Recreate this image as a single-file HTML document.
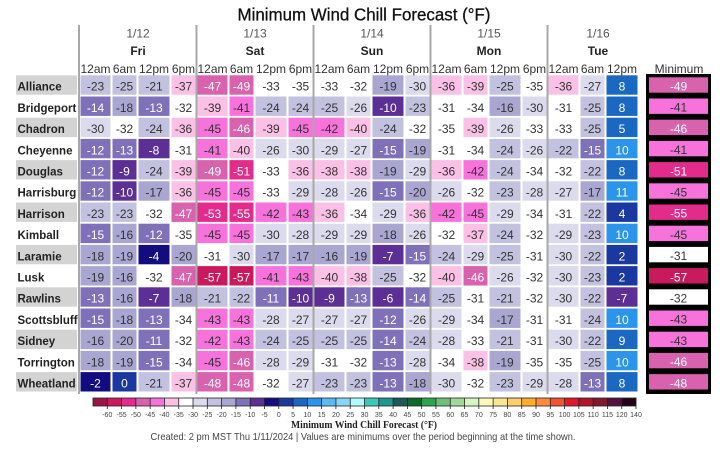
<!DOCTYPE html>
<html><head><meta charset="utf-8">
<style>
html,body{margin:0;padding:0;background:#fff}
svg{display:block}
text{font-family:"Liberation Sans",sans-serif}
.r text{font-size:12px;text-anchor:middle;fill:#333}
.r text.w{fill:#fff}
.r text.lb{text-anchor:start;font-weight:bold;font-size:11.5px;fill:#222}
.cr{fill:#c81a5c}.ho{fill:#e32b8c}.mi{fill:#d862ae}.bp{fill:#f872dc}.lp{fill:#fbc0e6}.wh{fill:#fff}
.l1{fill:#dcdbed}.l2{fill:#c2c1df}.l3{fill:#a9a6d1}.p1{fill:#7e71ba}.p2{fill:#5b2f95}
.n1{fill:#120c80}.n2{fill:#1a38a0}.b1{fill:#1a68c2}.b2{fill:#2b95ec}
.hd text{font-size:12px;text-anchor:middle;fill:#333}
.hd text.dt{fill:#555}
.hd text.dy{font-weight:bold;fill:#222}
.cb text{font-size:7px;text-anchor:middle;fill:#444}
text.serif{font-family:"Liberation Serif",serif;font-weight:bold}
</style></head><body>
<svg width="728" height="449" viewBox="0 0 728 449" xmlns="http://www.w3.org/2000/svg">
<rect width="728" height="449" fill="#fff"/>
<text x="364" y="20.5" font-size="17.5" text-anchor="middle" fill="#111" stroke="#111" stroke-width="0.3" textLength="253" lengthAdjust="spacingAndGlyphs">Minimum Wind Chill Forecast (°F)</text>

<g class="hd">
<text class="dt" x="138" y="37.5">1/12</text>
<text class="dt" x="255" y="37.5">1/13</text>
<text class="dt" x="372" y="37.5">1/14</text>
<text class="dt" x="489" y="37.5">1/15</text>
<text class="dt" x="598" y="37.5">1/16</text>
<text class="dy" x="138" y="55">Fri</text>
<text class="dy" x="255" y="55">Sat</text>
<text class="dy" x="372" y="55">Sun</text>
<text class="dy" x="489" y="55">Mon</text>
<text class="dy" x="598" y="55">Tue</text>
<text x="95.5" y="73">12am</text><text x="124.5" y="73">6am</text><text x="154" y="73">12pm</text><text x="183.5" y="73">6pm</text>
<text x="212.5" y="73">12am</text><text x="241.5" y="73">6am</text><text x="271" y="73">12pm</text><text x="300.5" y="73">6pm</text>
<text x="329.5" y="73">12am</text><text x="358.5" y="73">6am</text><text x="388" y="73">12pm</text><text x="417.5" y="73">6pm</text>
<text x="446.5" y="73">12am</text><text x="475.5" y="73">6am</text><text x="505" y="73">12pm</text><text x="534.5" y="73">6pm</text>
<text x="563.5" y="73">12am</text><text x="592.5" y="73">6am</text><text x="622" y="73">12pm</text>
<text x="679" y="73">Minimum</text>
</g>

<rect x="646" y="74" width="65" height="320" fill="#000"/>

<g class="r" transform="translate(0,75.3)">
<rect x="16" width="61" height="19.4" fill="#d3d3d3"/><text class="lb" x="17.5" y="15.4">Alliance</text>
<rect class="l2" x="80.5" width="30" height="19.4"/><text x="95.5" y="15.4">-23</text>
<rect class="l2" x="112.5" width="24" height="19.4"/><text x="124.5" y="15.4">-25</text>
<rect class="l2" x="138.5" width="31" height="19.4"/><text x="154" y="15.4">-21</text>
<rect class="lp" x="171.5" width="24" height="19.4"/><text x="183.5" y="15.4">-37</text>
<rect class="mi" x="197.5" width="30" height="19.4"/><text class="w" x="212.5" y="15.4">-47</text>
<rect class="mi" x="229.5" width="24" height="19.4"/><text class="w" x="241.5" y="15.4">-49</text>
<rect class="wh" x="255.5" width="31" height="19.4"/><text x="271" y="15.4">-33</text>
<rect class="wh" x="288.5" width="24" height="19.4"/><text x="300.5" y="15.4">-35</text>
<rect class="wh" x="314.5" width="30" height="19.4"/><text x="329.5" y="15.4">-33</text>
<rect class="wh" x="346.5" width="24" height="19.4"/><text x="358.5" y="15.4">-32</text>
<rect class="l3" x="372.5" width="31" height="19.4"/><text x="388" y="15.4">-19</text>
<rect class="l1" x="405.5" width="24" height="19.4"/><text x="417.5" y="15.4">-30</text>
<rect class="lp" x="431.5" width="30" height="19.4"/><text x="446.5" y="15.4">-36</text>
<rect class="lp" x="463.5" width="24" height="19.4"/><text x="475.5" y="15.4">-39</text>
<rect class="l2" x="489.5" width="31" height="19.4"/><text x="505" y="15.4">-25</text>
<rect class="wh" x="522.5" width="24" height="19.4"/><text x="534.5" y="15.4">-35</text>
<rect class="lp" x="548.5" width="30" height="19.4"/><text x="563.5" y="15.4">-36</text>
<rect class="l1" x="580.5" width="24" height="19.4"/><text x="592.5" y="15.4">-27</text>
<rect class="b1" x="606.5" width="31" height="19.4"/><text class="w" x="622" y="15.4">8</text>
<rect class="mi" x="649" y="2" width="59" height="15.4"/><text class="w" x="678.5" y="15.2">-49</text>
</g>

<g class="r" transform="translate(0,96.5)">
<text class="lb" x="17.5" y="15.4">Bridgeport</text>
<rect class="p1" x="80.5" width="30" height="19.4"/><text class="w" x="95.5" y="15.4">-14</text>
<rect class="l3" x="112.5" width="24" height="19.4"/><text x="124.5" y="15.4">-18</text>
<rect class="p1" x="138.5" width="31" height="19.4"/><text class="w" x="154" y="15.4">-13</text>
<rect class="wh" x="171.5" width="24" height="19.4"/><text x="183.5" y="15.4">-32</text>
<rect class="lp" x="197.5" width="30" height="19.4"/><text x="212.5" y="15.4">-39</text>
<rect class="bp" x="229.5" width="24" height="19.4"/><text x="241.5" y="15.4">-41</text>
<rect class="l2" x="255.5" width="31" height="19.4"/><text x="271" y="15.4">-24</text>
<rect class="l2" x="288.5" width="24" height="19.4"/><text x="300.5" y="15.4">-24</text>
<rect class="l2" x="314.5" width="30" height="19.4"/><text x="329.5" y="15.4">-25</text>
<rect class="l1" x="346.5" width="24" height="19.4"/><text x="358.5" y="15.4">-26</text>
<rect class="p2" x="372.5" width="31" height="19.4"/><text class="w" x="388" y="15.4">-10</text>
<rect class="l2" x="405.5" width="24" height="19.4"/><text x="417.5" y="15.4">-23</text>
<rect class="wh" x="431.5" width="30" height="19.4"/><text x="446.5" y="15.4">-31</text>
<rect class="wh" x="463.5" width="24" height="19.4"/><text x="475.5" y="15.4">-34</text>
<rect class="l3" x="489.5" width="31" height="19.4"/><text x="505" y="15.4">-16</text>
<rect class="l1" x="522.5" width="24" height="19.4"/><text x="534.5" y="15.4">-30</text>
<rect class="wh" x="548.5" width="30" height="19.4"/><text x="563.5" y="15.4">-31</text>
<rect class="l2" x="580.5" width="24" height="19.4"/><text x="592.5" y="15.4">-25</text>
<rect class="b1" x="606.5" width="31" height="19.4"/><text class="w" x="622" y="15.4">8</text>
<rect class="bp" x="649" y="2" width="59" height="15.4"/><text x="678.5" y="15.2">-41</text>
</g>

<g class="r" transform="translate(0,117.7)">
<rect x="16" width="61" height="19.4" fill="#d3d3d3"/><text class="lb" x="17.5" y="15.4">Chadron</text>
<rect class="l1" x="80.5" width="30" height="19.4"/><text x="95.5" y="15.4">-30</text>
<rect class="wh" x="112.5" width="24" height="19.4"/><text x="124.5" y="15.4">-32</text>
<rect class="l2" x="138.5" width="31" height="19.4"/><text x="154" y="15.4">-24</text>
<rect class="lp" x="171.5" width="24" height="19.4"/><text x="183.5" y="15.4">-36</text>
<rect class="bp" x="197.5" width="30" height="19.4"/><text x="212.5" y="15.4">-45</text>
<rect class="mi" x="229.5" width="24" height="19.4"/><text class="w" x="241.5" y="15.4">-46</text>
<rect class="lp" x="255.5" width="31" height="19.4"/><text x="271" y="15.4">-39</text>
<rect class="bp" x="288.5" width="24" height="19.4"/><text x="300.5" y="15.4">-45</text>
<rect class="bp" x="314.5" width="30" height="19.4"/><text x="329.5" y="15.4">-42</text>
<rect class="lp" x="346.5" width="24" height="19.4"/><text x="358.5" y="15.4">-40</text>
<rect class="l2" x="372.5" width="31" height="19.4"/><text x="388" y="15.4">-24</text>
<rect class="wh" x="405.5" width="24" height="19.4"/><text x="417.5" y="15.4">-32</text>
<rect class="wh" x="431.5" width="30" height="19.4"/><text x="446.5" y="15.4">-35</text>
<rect class="lp" x="463.5" width="24" height="19.4"/><text x="475.5" y="15.4">-39</text>
<rect class="l1" x="489.5" width="31" height="19.4"/><text x="505" y="15.4">-26</text>
<rect class="wh" x="522.5" width="24" height="19.4"/><text x="534.5" y="15.4">-33</text>
<rect class="wh" x="548.5" width="30" height="19.4"/><text x="563.5" y="15.4">-33</text>
<rect class="l2" x="580.5" width="24" height="19.4"/><text x="592.5" y="15.4">-25</text>
<rect class="b1" x="606.5" width="31" height="19.4"/><text class="w" x="622" y="15.4">5</text>
<rect class="mi" x="649" y="2" width="59" height="15.4"/><text class="w" x="678.5" y="15.2">-46</text>
</g>

<g class="r" transform="translate(0,138.9)">
<text class="lb" x="17.5" y="15.4">Cheyenne</text>
<rect class="p1" x="80.5" width="30" height="19.4"/><text class="w" x="95.5" y="15.4">-12</text>
<rect class="p1" x="112.5" width="24" height="19.4"/><text class="w" x="124.5" y="15.4">-13</text>
<rect class="p2" x="138.5" width="31" height="19.4"/><text class="w" x="154" y="15.4">-8</text>
<rect class="wh" x="171.5" width="24" height="19.4"/><text x="183.5" y="15.4">-31</text>
<rect class="bp" x="197.5" width="30" height="19.4"/><text x="212.5" y="15.4">-41</text>
<rect class="lp" x="229.5" width="24" height="19.4"/><text x="241.5" y="15.4">-40</text>
<rect class="l1" x="255.5" width="31" height="19.4"/><text x="271" y="15.4">-26</text>
<rect class="l1" x="288.5" width="24" height="19.4"/><text x="300.5" y="15.4">-30</text>
<rect class="l1" x="314.5" width="30" height="19.4"/><text x="329.5" y="15.4">-29</text>
<rect class="l1" x="346.5" width="24" height="19.4"/><text x="358.5" y="15.4">-27</text>
<rect class="p1" x="372.5" width="31" height="19.4"/><text class="w" x="388" y="15.4">-15</text>
<rect class="l3" x="405.5" width="24" height="19.4"/><text x="417.5" y="15.4">-19</text>
<rect class="wh" x="431.5" width="30" height="19.4"/><text x="446.5" y="15.4">-31</text>
<rect class="wh" x="463.5" width="24" height="19.4"/><text x="475.5" y="15.4">-34</text>
<rect class="l2" x="489.5" width="31" height="19.4"/><text x="505" y="15.4">-24</text>
<rect class="l1" x="522.5" width="24" height="19.4"/><text x="534.5" y="15.4">-26</text>
<rect class="l2" x="548.5" width="30" height="19.4"/><text x="563.5" y="15.4">-22</text>
<rect class="p1" x="580.5" width="24" height="19.4"/><text class="w" x="592.5" y="15.4">-15</text>
<rect class="b2" x="606.5" width="31" height="19.4"/><text class="w" x="622" y="15.4">10</text>
<rect class="bp" x="649" y="2" width="59" height="15.4"/><text x="678.5" y="15.2">-41</text>
</g>

<g class="r" transform="translate(0,160.1)">
<rect x="16" width="61" height="19.4" fill="#d3d3d3"/><text class="lb" x="17.5" y="15.4">Douglas</text>
<rect class="p1" x="80.5" width="30" height="19.4"/><text class="w" x="95.5" y="15.4">-12</text>
<rect class="p2" x="112.5" width="24" height="19.4"/><text class="w" x="124.5" y="15.4">-9</text>
<rect class="l2" x="138.5" width="31" height="19.4"/><text x="154" y="15.4">-24</text>
<rect class="lp" x="171.5" width="24" height="19.4"/><text x="183.5" y="15.4">-39</text>
<rect class="mi" x="197.5" width="30" height="19.4"/><text class="w" x="212.5" y="15.4">-49</text>
<rect class="ho" x="229.5" width="24" height="19.4"/><text class="w" x="241.5" y="15.4">-51</text>
<rect class="wh" x="255.5" width="31" height="19.4"/><text x="271" y="15.4">-33</text>
<rect class="lp" x="288.5" width="24" height="19.4"/><text x="300.5" y="15.4">-36</text>
<rect class="lp" x="314.5" width="30" height="19.4"/><text x="329.5" y="15.4">-38</text>
<rect class="lp" x="346.5" width="24" height="19.4"/><text x="358.5" y="15.4">-38</text>
<rect class="l3" x="372.5" width="31" height="19.4"/><text x="388" y="15.4">-19</text>
<rect class="l1" x="405.5" width="24" height="19.4"/><text x="417.5" y="15.4">-29</text>
<rect class="lp" x="431.5" width="30" height="19.4"/><text x="446.5" y="15.4">-36</text>
<rect class="bp" x="463.5" width="24" height="19.4"/><text x="475.5" y="15.4">-42</text>
<rect class="l2" x="489.5" width="31" height="19.4"/><text x="505" y="15.4">-24</text>
<rect class="wh" x="522.5" width="24" height="19.4"/><text x="534.5" y="15.4">-34</text>
<rect class="wh" x="548.5" width="30" height="19.4"/><text x="563.5" y="15.4">-32</text>
<rect class="l2" x="580.5" width="24" height="19.4"/><text x="592.5" y="15.4">-22</text>
<rect class="b1" x="606.5" width="31" height="19.4"/><text class="w" x="622" y="15.4">8</text>
<rect class="ho" x="649" y="2" width="59" height="15.4"/><text class="w" x="678.5" y="15.2">-51</text>
</g>

<g class="r" transform="translate(0,181.3)">
<text class="lb" x="17.5" y="15.4">Harrisburg</text>
<rect class="p1" x="80.5" width="30" height="19.4"/><text class="w" x="95.5" y="15.4">-12</text>
<rect class="p2" x="112.5" width="24" height="19.4"/><text class="w" x="124.5" y="15.4">-10</text>
<rect class="l3" x="138.5" width="31" height="19.4"/><text x="154" y="15.4">-17</text>
<rect class="lp" x="171.5" width="24" height="19.4"/><text x="183.5" y="15.4">-36</text>
<rect class="bp" x="197.5" width="30" height="19.4"/><text x="212.5" y="15.4">-45</text>
<rect class="bp" x="229.5" width="24" height="19.4"/><text x="241.5" y="15.4">-45</text>
<rect class="wh" x="255.5" width="31" height="19.4"/><text x="271" y="15.4">-33</text>
<rect class="l1" x="288.5" width="24" height="19.4"/><text x="300.5" y="15.4">-29</text>
<rect class="l1" x="314.5" width="30" height="19.4"/><text x="329.5" y="15.4">-28</text>
<rect class="l1" x="346.5" width="24" height="19.4"/><text x="358.5" y="15.4">-26</text>
<rect class="p1" x="372.5" width="31" height="19.4"/><text class="w" x="388" y="15.4">-15</text>
<rect class="l3" x="405.5" width="24" height="19.4"/><text x="417.5" y="15.4">-20</text>
<rect class="l1" x="431.5" width="30" height="19.4"/><text x="446.5" y="15.4">-26</text>
<rect class="wh" x="463.5" width="24" height="19.4"/><text x="475.5" y="15.4">-32</text>
<rect class="l2" x="489.5" width="31" height="19.4"/><text x="505" y="15.4">-23</text>
<rect class="l1" x="522.5" width="24" height="19.4"/><text x="534.5" y="15.4">-28</text>
<rect class="l1" x="548.5" width="30" height="19.4"/><text x="563.5" y="15.4">-27</text>
<rect class="l3" x="580.5" width="24" height="19.4"/><text x="592.5" y="15.4">-17</text>
<rect class="b2" x="606.5" width="31" height="19.4"/><text class="w" x="622" y="15.4">11</text>
<rect class="bp" x="649" y="2" width="59" height="15.4"/><text x="678.5" y="15.2">-45</text>
</g>

<g class="r" transform="translate(0,202.5)">
<rect x="16" width="61" height="19.4" fill="#d3d3d3"/><text class="lb" x="17.5" y="15.4">Harrison</text>
<rect class="l2" x="80.5" width="30" height="19.4"/><text x="95.5" y="15.4">-23</text>
<rect class="l2" x="112.5" width="24" height="19.4"/><text x="124.5" y="15.4">-23</text>
<rect class="wh" x="138.5" width="31" height="19.4"/><text x="154" y="15.4">-32</text>
<rect class="mi" x="171.5" width="24" height="19.4"/><text class="w" x="183.5" y="15.4">-47</text>
<rect class="ho" x="197.5" width="30" height="19.4"/><text class="w" x="212.5" y="15.4">-53</text>
<rect class="ho" x="229.5" width="24" height="19.4"/><text class="w" x="241.5" y="15.4">-55</text>
<rect class="bp" x="255.5" width="31" height="19.4"/><text x="271" y="15.4">-42</text>
<rect class="bp" x="288.5" width="24" height="19.4"/><text x="300.5" y="15.4">-43</text>
<rect class="lp" x="314.5" width="30" height="19.4"/><text x="329.5" y="15.4">-36</text>
<rect class="wh" x="346.5" width="24" height="19.4"/><text x="358.5" y="15.4">-34</text>
<rect class="l1" x="372.5" width="31" height="19.4"/><text x="388" y="15.4">-29</text>
<rect class="lp" x="405.5" width="24" height="19.4"/><text x="417.5" y="15.4">-36</text>
<rect class="bp" x="431.5" width="30" height="19.4"/><text x="446.5" y="15.4">-42</text>
<rect class="bp" x="463.5" width="24" height="19.4"/><text x="475.5" y="15.4">-45</text>
<rect class="l1" x="489.5" width="31" height="19.4"/><text x="505" y="15.4">-29</text>
<rect class="wh" x="522.5" width="24" height="19.4"/><text x="534.5" y="15.4">-34</text>
<rect class="wh" x="548.5" width="30" height="19.4"/><text x="563.5" y="15.4">-31</text>
<rect class="l2" x="580.5" width="24" height="19.4"/><text x="592.5" y="15.4">-22</text>
<rect class="n2" x="606.5" width="31" height="19.4"/><text class="w" x="622" y="15.4">4</text>
<rect class="ho" x="649" y="2" width="59" height="15.4"/><text class="w" x="678.5" y="15.2">-55</text>
</g>

<g class="r" transform="translate(0,223.7)">
<text class="lb" x="17.5" y="15.4">Kimball</text>
<rect class="p1" x="80.5" width="30" height="19.4"/><text class="w" x="95.5" y="15.4">-15</text>
<rect class="l3" x="112.5" width="24" height="19.4"/><text x="124.5" y="15.4">-16</text>
<rect class="p1" x="138.5" width="31" height="19.4"/><text class="w" x="154" y="15.4">-12</text>
<rect class="wh" x="171.5" width="24" height="19.4"/><text x="183.5" y="15.4">-35</text>
<rect class="bp" x="197.5" width="30" height="19.4"/><text x="212.5" y="15.4">-45</text>
<rect class="bp" x="229.5" width="24" height="19.4"/><text x="241.5" y="15.4">-45</text>
<rect class="l1" x="255.5" width="31" height="19.4"/><text x="271" y="15.4">-30</text>
<rect class="l1" x="288.5" width="24" height="19.4"/><text x="300.5" y="15.4">-28</text>
<rect class="l1" x="314.5" width="30" height="19.4"/><text x="329.5" y="15.4">-29</text>
<rect class="l1" x="346.5" width="24" height="19.4"/><text x="358.5" y="15.4">-29</text>
<rect class="l3" x="372.5" width="31" height="19.4"/><text x="388" y="15.4">-18</text>
<rect class="l1" x="405.5" width="24" height="19.4"/><text x="417.5" y="15.4">-26</text>
<rect class="wh" x="431.5" width="30" height="19.4"/><text x="446.5" y="15.4">-32</text>
<rect class="lp" x="463.5" width="24" height="19.4"/><text x="475.5" y="15.4">-37</text>
<rect class="l2" x="489.5" width="31" height="19.4"/><text x="505" y="15.4">-24</text>
<rect class="wh" x="522.5" width="24" height="19.4"/><text x="534.5" y="15.4">-32</text>
<rect class="l1" x="548.5" width="30" height="19.4"/><text x="563.5" y="15.4">-29</text>
<rect class="l2" x="580.5" width="24" height="19.4"/><text x="592.5" y="15.4">-23</text>
<rect class="b2" x="606.5" width="31" height="19.4"/><text class="w" x="622" y="15.4">10</text>
<rect class="bp" x="649" y="2" width="59" height="15.4"/><text x="678.5" y="15.2">-45</text>
</g>

<g class="r" transform="translate(0,244.9)">
<rect x="16" width="61" height="19.4" fill="#d3d3d3"/><text class="lb" x="17.5" y="15.4">Laramie</text>
<rect class="l3" x="80.5" width="30" height="19.4"/><text x="95.5" y="15.4">-18</text>
<rect class="l3" x="112.5" width="24" height="19.4"/><text x="124.5" y="15.4">-19</text>
<rect class="n1" x="138.5" width="31" height="19.4"/><text class="w" x="154" y="15.4">-4</text>
<rect class="l3" x="171.5" width="24" height="19.4"/><text x="183.5" y="15.4">-20</text>
<rect class="wh" x="197.5" width="30" height="19.4"/><text x="212.5" y="15.4">-31</text>
<rect class="l1" x="229.5" width="24" height="19.4"/><text x="241.5" y="15.4">-30</text>
<rect class="l3" x="255.5" width="31" height="19.4"/><text x="271" y="15.4">-17</text>
<rect class="l3" x="288.5" width="24" height="19.4"/><text x="300.5" y="15.4">-17</text>
<rect class="l3" x="314.5" width="30" height="19.4"/><text x="329.5" y="15.4">-16</text>
<rect class="l3" x="346.5" width="24" height="19.4"/><text x="358.5" y="15.4">-19</text>
<rect class="p2" x="372.5" width="31" height="19.4"/><text class="w" x="388" y="15.4">-7</text>
<rect class="p1" x="405.5" width="24" height="19.4"/><text class="w" x="417.5" y="15.4">-15</text>
<rect class="l2" x="431.5" width="30" height="19.4"/><text x="446.5" y="15.4">-24</text>
<rect class="l1" x="463.5" width="24" height="19.4"/><text x="475.5" y="15.4">-29</text>
<rect class="l2" x="489.5" width="31" height="19.4"/><text x="505" y="15.4">-25</text>
<rect class="wh" x="522.5" width="24" height="19.4"/><text x="534.5" y="15.4">-31</text>
<rect class="l1" x="548.5" width="30" height="19.4"/><text x="563.5" y="15.4">-30</text>
<rect class="l2" x="580.5" width="24" height="19.4"/><text x="592.5" y="15.4">-22</text>
<rect class="n2" x="606.5" width="31" height="19.4"/><text class="w" x="622" y="15.4">2</text>
<rect class="wh" x="649" y="2" width="59" height="15.4"/><text x="678.5" y="15.2">-31</text>
</g>

<g class="r" transform="translate(0,266.1)">
<text class="lb" x="17.5" y="15.4">Lusk</text>
<rect class="l3" x="80.5" width="30" height="19.4"/><text x="95.5" y="15.4">-19</text>
<rect class="l3" x="112.5" width="24" height="19.4"/><text x="124.5" y="15.4">-16</text>
<rect class="wh" x="138.5" width="31" height="19.4"/><text x="154" y="15.4">-32</text>
<rect class="mi" x="171.5" width="24" height="19.4"/><text class="w" x="183.5" y="15.4">-47</text>
<rect class="cr" x="197.5" width="30" height="19.4"/><text class="w" x="212.5" y="15.4">-57</text>
<rect class="cr" x="229.5" width="24" height="19.4"/><text class="w" x="241.5" y="15.4">-57</text>
<rect class="bp" x="255.5" width="31" height="19.4"/><text x="271" y="15.4">-41</text>
<rect class="bp" x="288.5" width="24" height="19.4"/><text x="300.5" y="15.4">-43</text>
<rect class="lp" x="314.5" width="30" height="19.4"/><text x="329.5" y="15.4">-40</text>
<rect class="lp" x="346.5" width="24" height="19.4"/><text x="358.5" y="15.4">-38</text>
<rect class="l2" x="372.5" width="31" height="19.4"/><text x="388" y="15.4">-25</text>
<rect class="wh" x="405.5" width="24" height="19.4"/><text x="417.5" y="15.4">-32</text>
<rect class="lp" x="431.5" width="30" height="19.4"/><text x="446.5" y="15.4">-40</text>
<rect class="mi" x="463.5" width="24" height="19.4"/><text class="w" x="475.5" y="15.4">-46</text>
<rect class="l1" x="489.5" width="31" height="19.4"/><text x="505" y="15.4">-26</text>
<rect class="wh" x="522.5" width="24" height="19.4"/><text x="534.5" y="15.4">-32</text>
<rect class="l1" x="548.5" width="30" height="19.4"/><text x="563.5" y="15.4">-30</text>
<rect class="l2" x="580.5" width="24" height="19.4"/><text x="592.5" y="15.4">-23</text>
<rect class="n2" x="606.5" width="31" height="19.4"/><text class="w" x="622" y="15.4">2</text>
<rect class="cr" x="649" y="2" width="59" height="15.4"/><text class="w" x="678.5" y="15.2">-57</text>
</g>

<g class="r" transform="translate(0,287.3)">
<rect x="16" width="61" height="19.4" fill="#d3d3d3"/><text class="lb" x="17.5" y="15.4">Rawlins</text>
<rect class="p1" x="80.5" width="30" height="19.4"/><text class="w" x="95.5" y="15.4">-13</text>
<rect class="l3" x="112.5" width="24" height="19.4"/><text x="124.5" y="15.4">-16</text>
<rect class="p2" x="138.5" width="31" height="19.4"/><text class="w" x="154" y="15.4">-7</text>
<rect class="l3" x="171.5" width="24" height="19.4"/><text x="183.5" y="15.4">-18</text>
<rect class="l2" x="197.5" width="30" height="19.4"/><text x="212.5" y="15.4">-21</text>
<rect class="l2" x="229.5" width="24" height="19.4"/><text x="241.5" y="15.4">-22</text>
<rect class="p1" x="255.5" width="31" height="19.4"/><text class="w" x="271" y="15.4">-11</text>
<rect class="p2" x="288.5" width="24" height="19.4"/><text class="w" x="300.5" y="15.4">-10</text>
<rect class="p2" x="314.5" width="30" height="19.4"/><text class="w" x="329.5" y="15.4">-9</text>
<rect class="p1" x="346.5" width="24" height="19.4"/><text class="w" x="358.5" y="15.4">-13</text>
<rect class="p2" x="372.5" width="31" height="19.4"/><text class="w" x="388" y="15.4">-6</text>
<rect class="p1" x="405.5" width="24" height="19.4"/><text class="w" x="417.5" y="15.4">-14</text>
<rect class="l2" x="431.5" width="30" height="19.4"/><text x="446.5" y="15.4">-25</text>
<rect class="wh" x="463.5" width="24" height="19.4"/><text x="475.5" y="15.4">-31</text>
<rect class="l2" x="489.5" width="31" height="19.4"/><text x="505" y="15.4">-21</text>
<rect class="wh" x="522.5" width="24" height="19.4"/><text x="534.5" y="15.4">-32</text>
<rect class="l1" x="548.5" width="30" height="19.4"/><text x="563.5" y="15.4">-30</text>
<rect class="l2" x="580.5" width="24" height="19.4"/><text x="592.5" y="15.4">-22</text>
<rect class="p2" x="606.5" width="31" height="19.4"/><text class="w" x="622" y="15.4">-7</text>
<rect class="wh" x="649" y="2" width="59" height="15.4"/><text x="678.5" y="15.2">-32</text>
</g>

<g class="r" transform="translate(0,308.5)">
<text class="lb" x="17.5" y="15.4">Scottsbluff</text>
<rect class="p1" x="80.5" width="30" height="19.4"/><text class="w" x="95.5" y="15.4">-15</text>
<rect class="l3" x="112.5" width="24" height="19.4"/><text x="124.5" y="15.4">-18</text>
<rect class="p1" x="138.5" width="31" height="19.4"/><text class="w" x="154" y="15.4">-13</text>
<rect class="wh" x="171.5" width="24" height="19.4"/><text x="183.5" y="15.4">-34</text>
<rect class="bp" x="197.5" width="30" height="19.4"/><text x="212.5" y="15.4">-43</text>
<rect class="bp" x="229.5" width="24" height="19.4"/><text x="241.5" y="15.4">-43</text>
<rect class="l1" x="255.5" width="31" height="19.4"/><text x="271" y="15.4">-28</text>
<rect class="l1" x="288.5" width="24" height="19.4"/><text x="300.5" y="15.4">-27</text>
<rect class="l1" x="314.5" width="30" height="19.4"/><text x="329.5" y="15.4">-27</text>
<rect class="l1" x="346.5" width="24" height="19.4"/><text x="358.5" y="15.4">-27</text>
<rect class="p1" x="372.5" width="31" height="19.4"/><text class="w" x="388" y="15.4">-12</text>
<rect class="l1" x="405.5" width="24" height="19.4"/><text x="417.5" y="15.4">-26</text>
<rect class="l1" x="431.5" width="30" height="19.4"/><text x="446.5" y="15.4">-29</text>
<rect class="wh" x="463.5" width="24" height="19.4"/><text x="475.5" y="15.4">-34</text>
<rect class="l3" x="489.5" width="31" height="19.4"/><text x="505" y="15.4">-17</text>
<rect class="wh" x="522.5" width="24" height="19.4"/><text x="534.5" y="15.4">-31</text>
<rect class="wh" x="548.5" width="30" height="19.4"/><text x="563.5" y="15.4">-31</text>
<rect class="l2" x="580.5" width="24" height="19.4"/><text x="592.5" y="15.4">-24</text>
<rect class="b2" x="606.5" width="31" height="19.4"/><text class="w" x="622" y="15.4">10</text>
<rect class="bp" x="649" y="2" width="59" height="15.4"/><text x="678.5" y="15.2">-43</text>
</g>

<g class="r" transform="translate(0,329.7)">
<rect x="16" width="61" height="19.4" fill="#d3d3d3"/><text class="lb" x="17.5" y="15.4">Sidney</text>
<rect class="l3" x="80.5" width="30" height="19.4"/><text x="95.5" y="15.4">-16</text>
<rect class="l3" x="112.5" width="24" height="19.4"/><text x="124.5" y="15.4">-20</text>
<rect class="p1" x="138.5" width="31" height="19.4"/><text class="w" x="154" y="15.4">-11</text>
<rect class="wh" x="171.5" width="24" height="19.4"/><text x="183.5" y="15.4">-32</text>
<rect class="bp" x="197.5" width="30" height="19.4"/><text x="212.5" y="15.4">-42</text>
<rect class="bp" x="229.5" width="24" height="19.4"/><text x="241.5" y="15.4">-43</text>
<rect class="l2" x="255.5" width="31" height="19.4"/><text x="271" y="15.4">-24</text>
<rect class="l2" x="288.5" width="24" height="19.4"/><text x="300.5" y="15.4">-25</text>
<rect class="l2" x="314.5" width="30" height="19.4"/><text x="329.5" y="15.4">-25</text>
<rect class="l2" x="346.5" width="24" height="19.4"/><text x="358.5" y="15.4">-25</text>
<rect class="p1" x="372.5" width="31" height="19.4"/><text class="w" x="388" y="15.4">-14</text>
<rect class="l2" x="405.5" width="24" height="19.4"/><text x="417.5" y="15.4">-24</text>
<rect class="l1" x="431.5" width="30" height="19.4"/><text x="446.5" y="15.4">-28</text>
<rect class="wh" x="463.5" width="24" height="19.4"/><text x="475.5" y="15.4">-33</text>
<rect class="l2" x="489.5" width="31" height="19.4"/><text x="505" y="15.4">-21</text>
<rect class="wh" x="522.5" width="24" height="19.4"/><text x="534.5" y="15.4">-31</text>
<rect class="l1" x="548.5" width="30" height="19.4"/><text x="563.5" y="15.4">-30</text>
<rect class="l2" x="580.5" width="24" height="19.4"/><text x="592.5" y="15.4">-22</text>
<rect class="b1" x="606.5" width="31" height="19.4"/><text class="w" x="622" y="15.4">9</text>
<rect class="bp" x="649" y="2" width="59" height="15.4"/><text x="678.5" y="15.2">-43</text>
</g>

<g class="r" transform="translate(0,350.9)">
<text class="lb" x="17.5" y="15.4">Torrington</text>
<rect class="l3" x="80.5" width="30" height="19.4"/><text x="95.5" y="15.4">-18</text>
<rect class="l3" x="112.5" width="24" height="19.4"/><text x="124.5" y="15.4">-19</text>
<rect class="p1" x="138.5" width="31" height="19.4"/><text class="w" x="154" y="15.4">-15</text>
<rect class="wh" x="171.5" width="24" height="19.4"/><text x="183.5" y="15.4">-34</text>
<rect class="bp" x="197.5" width="30" height="19.4"/><text x="212.5" y="15.4">-45</text>
<rect class="mi" x="229.5" width="24" height="19.4"/><text class="w" x="241.5" y="15.4">-46</text>
<rect class="l1" x="255.5" width="31" height="19.4"/><text x="271" y="15.4">-28</text>
<rect class="l1" x="288.5" width="24" height="19.4"/><text x="300.5" y="15.4">-29</text>
<rect class="wh" x="314.5" width="30" height="19.4"/><text x="329.5" y="15.4">-31</text>
<rect class="wh" x="346.5" width="24" height="19.4"/><text x="358.5" y="15.4">-32</text>
<rect class="p1" x="372.5" width="31" height="19.4"/><text class="w" x="388" y="15.4">-13</text>
<rect class="l1" x="405.5" width="24" height="19.4"/><text x="417.5" y="15.4">-28</text>
<rect class="wh" x="431.5" width="30" height="19.4"/><text x="446.5" y="15.4">-34</text>
<rect class="lp" x="463.5" width="24" height="19.4"/><text x="475.5" y="15.4">-38</text>
<rect class="l3" x="489.5" width="31" height="19.4"/><text x="505" y="15.4">-19</text>
<rect class="wh" x="522.5" width="24" height="19.4"/><text x="534.5" y="15.4">-35</text>
<rect class="wh" x="548.5" width="30" height="19.4"/><text x="563.5" y="15.4">-35</text>
<rect class="l2" x="580.5" width="24" height="19.4"/><text x="592.5" y="15.4">-25</text>
<rect class="b2" x="606.5" width="31" height="19.4"/><text class="w" x="622" y="15.4">10</text>
<rect class="mi" x="649" y="2" width="59" height="15.4"/><text class="w" x="678.5" y="15.2">-46</text>
</g>

<g class="r" transform="translate(0,372.1)">
<rect x="16" width="61" height="19.4" fill="#d3d3d3"/><text class="lb" x="17.5" y="15.4">Wheatland</text>
<rect class="n1" x="80.5" width="30" height="19.4"/><text class="w" x="95.5" y="15.4">-2</text>
<rect class="n2" x="112.5" width="24" height="19.4"/><text class="w" x="124.5" y="15.4">0</text>
<rect class="l2" x="138.5" width="31" height="19.4"/><text x="154" y="15.4">-21</text>
<rect class="lp" x="171.5" width="24" height="19.4"/><text x="183.5" y="15.4">-37</text>
<rect class="mi" x="197.5" width="30" height="19.4"/><text class="w" x="212.5" y="15.4">-48</text>
<rect class="mi" x="229.5" width="24" height="19.4"/><text class="w" x="241.5" y="15.4">-48</text>
<rect class="wh" x="255.5" width="31" height="19.4"/><text x="271" y="15.4">-32</text>
<rect class="l1" x="288.5" width="24" height="19.4"/><text x="300.5" y="15.4">-27</text>
<rect class="l2" x="314.5" width="30" height="19.4"/><text x="329.5" y="15.4">-23</text>
<rect class="l2" x="346.5" width="24" height="19.4"/><text x="358.5" y="15.4">-23</text>
<rect class="p1" x="372.5" width="31" height="19.4"/><text class="w" x="388" y="15.4">-13</text>
<rect class="l3" x="405.5" width="24" height="19.4"/><text x="417.5" y="15.4">-18</text>
<rect class="l1" x="431.5" width="30" height="19.4"/><text x="446.5" y="15.4">-30</text>
<rect class="wh" x="463.5" width="24" height="19.4"/><text x="475.5" y="15.4">-32</text>
<rect class="l2" x="489.5" width="31" height="19.4"/><text x="505" y="15.4">-23</text>
<rect class="l1" x="522.5" width="24" height="19.4"/><text x="534.5" y="15.4">-29</text>
<rect class="l1" x="548.5" width="30" height="19.4"/><text x="563.5" y="15.4">-28</text>
<rect class="p1" x="580.5" width="24" height="19.4"/><text class="w" x="592.5" y="15.4">-13</text>
<rect class="b1" x="606.5" width="31" height="19.4"/><text class="w" x="622" y="15.4">8</text>
<rect class="mi" x="649" y="2" width="59" height="15.4"/><text class="w" x="678.5" y="15.2">-48</text>
</g>

<g fill="#a8a8a8">
<rect x="78" y="25" width="2" height="369"/>
<rect x="195.5" y="25" width="2" height="369"/>
<rect x="312.5" y="25" width="2" height="369"/>
<rect x="429.5" y="25" width="2" height="369"/>
<rect x="546.5" y="25" width="2" height="369"/>
</g>

<g class="cb">
<rect x="93" y="398" width="14.29" height="8" fill="#9b1646"/>
<rect x="107.29" y="398" width="14.29" height="8" fill="#c81a5c"/>
<rect x="121.58" y="398" width="14.29" height="8" fill="#e32b8c"/>
<rect x="135.87" y="398" width="14.29" height="8" fill="#d862ae"/>
<rect x="150.16" y="398" width="14.29" height="8" fill="#f872dc"/>
<rect x="164.45" y="398" width="14.29" height="8" fill="#fbc0e6"/>
<rect x="178.74" y="398" width="14.29" height="8" fill="#ffffff"/>
<rect x="193.03" y="398" width="14.29" height="8" fill="#dcdbed"/>
<rect x="207.32" y="398" width="14.29" height="8" fill="#c2c1df"/>
<rect x="221.61" y="398" width="14.29" height="8" fill="#a9a6d1"/>
<rect x="235.9" y="398" width="14.29" height="8" fill="#7e71ba"/>
<rect x="250.19" y="398" width="14.29" height="8" fill="#5b2f95"/>
<rect x="264.48" y="398" width="14.29" height="8" fill="#120c80"/>
<rect x="278.77" y="398" width="14.29" height="8" fill="#1a38a0"/>
<rect x="293.06" y="398" width="14.29" height="8" fill="#1a68c2"/>
<rect x="307.35" y="398" width="14.29" height="8" fill="#2b95ec"/>
<rect x="321.64" y="398" width="14.29" height="8" fill="#5cbaf2"/>
<rect x="335.93" y="398" width="14.29" height="8" fill="#86d6f8"/>
<rect x="350.22" y="398" width="14.29" height="8" fill="#b4fcfc"/>
<rect x="364.51" y="398" width="14.29" height="8" fill="#3cc8b8"/>
<rect x="378.8" y="398" width="14.29" height="8" fill="#22968e"/>
<rect x="393.09" y="398" width="14.29" height="8" fill="#1c5a58"/>
<rect x="407.38" y="398" width="14.29" height="8" fill="#0e6a2c"/>
<rect x="421.67" y="398" width="14.29" height="8" fill="#2ca452"/>
<rect x="435.96" y="398" width="14.29" height="8" fill="#6cc07a"/>
<rect x="450.25" y="398" width="14.29" height="8" fill="#a2d89a"/>
<rect x="464.54" y="398" width="14.29" height="8" fill="#d4f6c4"/>
<rect x="478.83" y="398" width="14.29" height="8" fill="#fff8bc"/>
<rect x="493.12" y="398" width="14.29" height="8" fill="#ffe590"/>
<rect x="507.41" y="398" width="14.29" height="8" fill="#ffcf6e"/>
<rect x="521.7" y="398" width="14.29" height="8" fill="#ffad2a"/>
<rect x="535.99" y="398" width="14.29" height="8" fill="#ff8a3c"/>
<rect x="550.28" y="398" width="14.29" height="8" fill="#f25232"/>
<rect x="564.57" y="398" width="14.29" height="8" fill="#e0182c"/>
<rect x="578.86" y="398" width="14.29" height="8" fill="#b0162c"/>
<rect x="593.15" y="398" width="14.29" height="8" fill="#801a30"/>
<rect x="607.44" y="398" width="14.29" height="8" fill="#52103e"/>
<rect x="621.73" y="398" width="14.29" height="8" fill="#220418"/>
<rect x="93" y="398" width="543" height="8" fill="none" stroke="#222" stroke-width="0.8"/>
<path stroke="#222" stroke-width="0.8" d="M107.29 398V409M121.58 398V409M135.87 398V409M150.16 398V409M164.45 398V409M178.74 398V409M193.03 398V409M207.32 398V409M221.61 398V409M235.9 398V409M250.19 398V409M264.48 398V409M278.77 398V409M293.06 398V409M307.35 398V409M321.64 398V409M335.93 398V409M350.22 398V409M364.51 398V409M378.8 398V409M393.09 398V409M407.38 398V409M421.67 398V409M435.96 398V409M450.25 398V409M464.54 398V409M478.83 398V409M493.12 398V409M507.41 398V409M521.7 398V409M535.99 398V409M550.28 398V409M564.57 398V409M578.86 398V409M593.15 398V409M607.44 398V409M621.73 398V409M636 398V409"/>
<text x="107.29" y="417">-60</text><text x="121.58" y="417">-55</text><text x="135.87" y="417">-50</text><text x="150.16" y="417">-45</text><text x="164.45" y="417">-40</text><text x="178.74" y="417">-35</text><text x="193.03" y="417">-30</text><text x="207.32" y="417">-25</text><text x="221.61" y="417">-20</text><text x="235.9" y="417">-15</text><text x="250.19" y="417">-10</text><text x="264.48" y="417">-5</text><text x="278.77" y="417">0</text><text x="293.06" y="417">5</text><text x="307.35" y="417">10</text><text x="321.64" y="417">15</text><text x="335.93" y="417">20</text><text x="350.22" y="417">25</text><text x="364.51" y="417">30</text><text x="378.8" y="417">35</text><text x="393.09" y="417">40</text><text x="407.38" y="417">45</text><text x="421.67" y="417">50</text><text x="435.96" y="417">55</text><text x="450.25" y="417">60</text><text x="464.54" y="417">65</text><text x="478.83" y="417">70</text><text x="493.12" y="417">75</text><text x="507.41" y="417">80</text><text x="521.7" y="417">85</text><text x="535.99" y="417">90</text><text x="550.28" y="417">95</text><text x="564.57" y="417">100</text><text x="578.86" y="417">105</text><text x="593.15" y="417">110</text><text x="607.44" y="417">115</text><text x="621.73" y="417">120</text><text x="636" y="417">140</text>
</g>

<text class="serif" x="364" y="428" style="font-family:'Liberation Serif',serif;font-weight:bold" font-size="10.5" fill="#222" text-anchor="middle" textLength="146" lengthAdjust="spacingAndGlyphs">Minimum Wind Chill Forecast (°F)</text>
<text x="363" y="440" font-size="10.5" fill="#444" text-anchor="middle" textLength="425" lengthAdjust="spacingAndGlyphs">Created: 2 pm MST Thu 1/11/2024  |  Values are minimums over the period beginning at the time shown.</text>
</svg>
</body></html>
